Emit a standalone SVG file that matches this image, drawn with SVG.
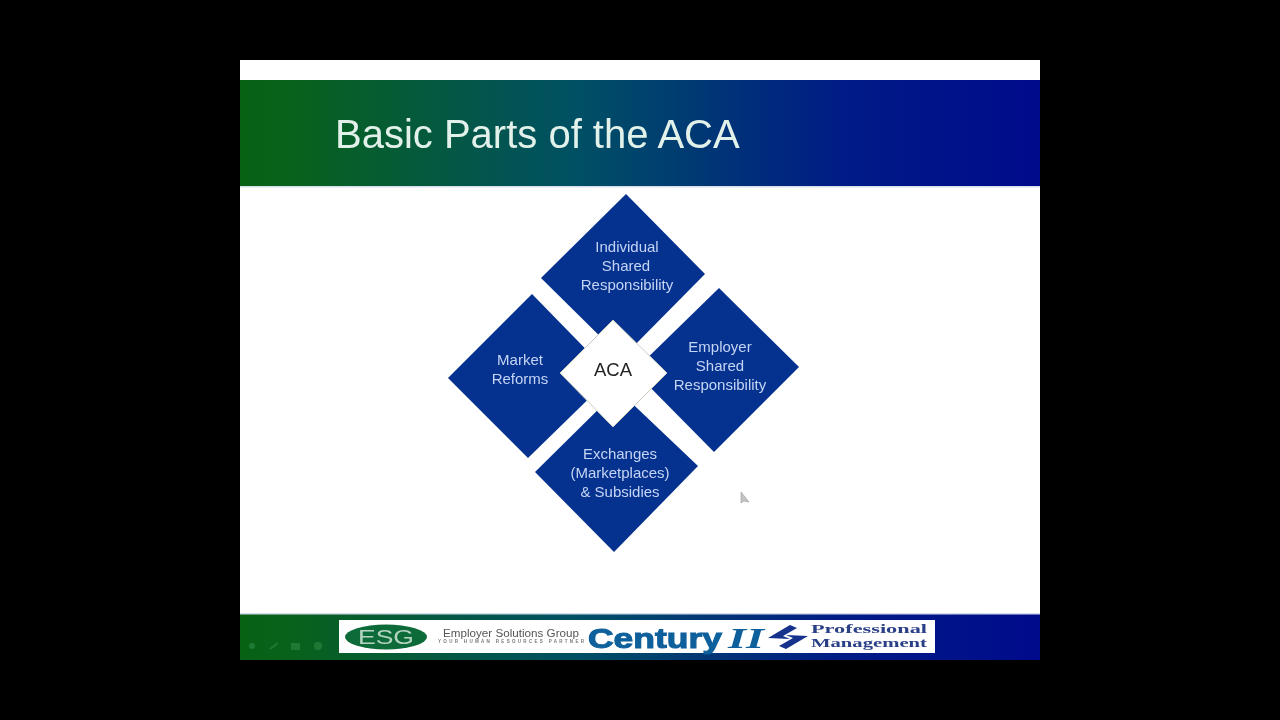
<svg xmlns="http://www.w3.org/2000/svg" width="1280" height="720" viewBox="0 0 1280 720">
<defs>
<linearGradient id="band" x1="0" y1="0" x2="1" y2="0">
<stop offset="0" stop-color="#086214"/><stop offset="0.06" stop-color="#08621a"/><stop offset="0.42" stop-color="#005064"/><stop offset="0.75" stop-color="#001c86"/><stop offset="1" stop-color="#000a8c"/>
</linearGradient>
<filter id="soft" x="-5%" y="-5%" width="110%" height="110%"><feGaussianBlur stdDeviation="0.55"/></filter>
</defs>
<style>
.lbl{font-family:"Liberation Sans",Arial,sans-serif;font-size:15px;fill:#c4d4f4;text-anchor:middle;filter:url(#soft)}
.dia{fill:#05318f}
.logo{font-family:"Liberation Sans",Arial,sans-serif;filter:url(#soft)}
</style>
<rect width="1280" height="720" fill="#000"/>
<g id="slide">
<rect x="240" y="60" width="800" height="600" fill="#fff"/>
<rect x="240" y="80" width="800" height="107" fill="url(#band)"/>
<rect x="240" y="186" width="800" height="1.5" fill="#d5e0ec"/>
<rect x="240" y="614" width="800" height="46" fill="url(#band)"/>
<rect x="240" y="613" width="800" height="1.5" fill="#d5dcec"/>
<text x="335" y="148" font-family="'Liberation Sans',Arial,sans-serif" font-size="40" fill="#e2f2ea" filter="url(#soft)">Basic Parts of the ACA</text>
</g>
<g id="connectors"/>
<g id="node-individual">
<polygon class="dia" points="626,194 705,274 622,358 541,278"/>
<text class="lbl" x="627" y="252">Individual</text>
<text class="lbl" x="626" y="271">Shared</text>
<text class="lbl" x="627" y="290">Responsibility</text>
</g>
<g id="node-market">
<polygon class="dia" points="532,294 448,378 528,458 612,376"/>
<text class="lbl" x="520" y="365">Market</text>
<text class="lbl" x="520" y="384">Reforms</text>
</g>
<g id="node-employer">
<polygon class="dia" points="719,288 799,367 714,452 634,371"/>
<text class="lbl" x="720" y="352">Employer</text>
<text class="lbl" x="720" y="371">Shared</text>
<text class="lbl" x="720" y="390">Responsibility</text>
</g>
<g id="node-exchanges">
<polygon class="dia" points="618,390 698,466 614,552 535,472"/>
<text class="lbl" x="620" y="459">Exchanges</text>
<text class="lbl" x="620" y="478">(Marketplaces)</text>
<text class="lbl" x="620" y="497">&amp; Subsidies</text>
</g>
<g id="node-aca">
<polygon points="613,320 667,373 613,427 560,373" fill="#fff" stroke="#c8ccc0" stroke-width="1"/>
<text x="613" y="376" font-family="'Liberation Sans',Arial,sans-serif" font-size="18.5" fill="#222" text-anchor="middle" filter="url(#soft)">ACA</text>
</g>
<g id="logo-strip">
<rect x="339" y="620" width="596" height="33" fill="#fff"/>
<ellipse cx="386" cy="637" rx="41" ry="12.5" fill="#0d6b3a"/>
<text class="logo" x="386" y="644" font-size="21" fill="#b5d4c0" text-anchor="middle" textLength="56" lengthAdjust="spacingAndGlyphs">ESG</text>
<text class="logo" x="511" y="637" font-size="10" fill="#555" text-anchor="middle" textLength="136" lengthAdjust="spacingAndGlyphs">Employer Solutions Group</text>
<text class="logo" x="511" y="643" font-size="4.5" font-weight="bold" fill="#777" text-anchor="middle" textLength="146" lengthAdjust="spacing">YOUR HUMAN RESOURCES PARTNER</text>
<text class="logo" x="588" y="648" font-size="27" font-weight="bold" fill="#10609c" stroke="#10609c" stroke-width="1" textLength="134" lengthAdjust="spacingAndGlyphs">Century</text>
<text x="728" y="648" font-family="'Liberation Serif',serif" font-size="29" font-weight="bold" font-style="italic" fill="#10609c" textLength="36" lengthAdjust="spacingAndGlyphs" filter="url(#soft)">II</text>
<path d="M768 638 L790 625 L797 628 L783 636 L790 639 Z" fill="#15308c" filter="url(#soft)"/>
<path d="M808 636 L786 649 L779 646 L793 638 L786 635 Z" fill="#15308c" filter="url(#soft)"/>
<text x="869" y="633" font-family="'Liberation Serif',serif" font-size="12" font-weight="bold" fill="#2a3f86" text-anchor="middle" textLength="116" lengthAdjust="spacingAndGlyphs" filter="url(#soft)">Professional</text>
<text x="869" y="647" font-family="'Liberation Serif',serif" font-size="12.5" font-weight="bold" fill="#2a3f86" text-anchor="middle" textLength="116" lengthAdjust="spacingAndGlyphs" filter="url(#soft)">Management</text>
</g>
<g id="cursor">
<path d="M741 492 L741 503 L744 501 L749 502 Z" fill="#c4c4c4" stroke="#999" stroke-width="0.6"/>
</g>
<g id="toolbar" fill="#1f7a34" filter="url(#soft)">
<circle cx="252" cy="646" r="3"/><path d="M270 649 L278 643" stroke="#1f7a34" stroke-width="2"/><rect x="291" y="643" width="9" height="7"/><circle cx="318" cy="646" r="4"/>
</g>
</svg>
